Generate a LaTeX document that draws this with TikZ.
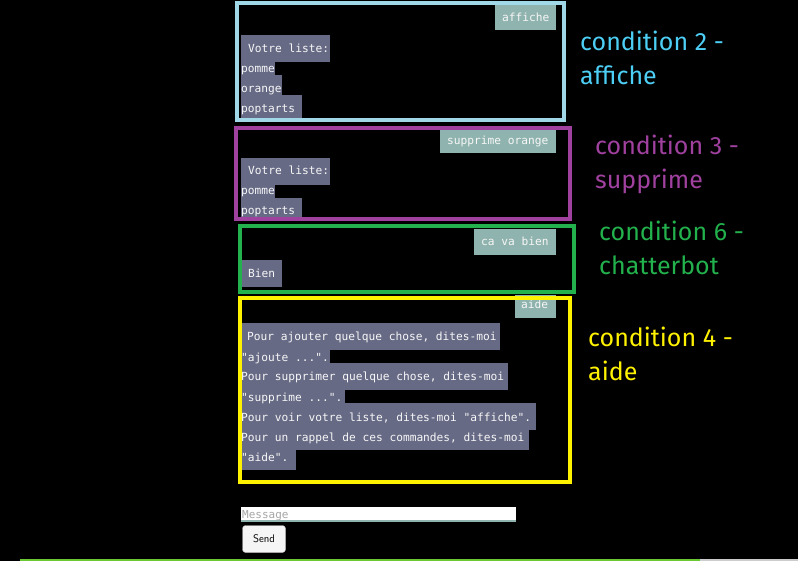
\documentclass[tikz,border=0pt]{standalone}
\usepackage{fontspec}
\setmainfont{Fira Sans}
\setmonofont{DejaVu Sans Mono}
\definecolor{cyanb}{HTML}{A0D8E8}
\definecolor{purb}{HTML}{A0409F}
\definecolor{grnb}{HTML}{22B14C}
\definecolor{yelb}{HTML}{FFF200}
\definecolor{userc}{HTML}{8FB3AE}
\definecolor{botc}{HTML}{666A85}
\begin{document}
\begin{tikzpicture}[x=1pt,y=-1pt,
  frame/.style={line width=4pt},
  ub/.style={fill=userc},
  bb/.style={fill=botc},
  txt/.style={anchor=base west,inner sep=0pt,font=\ttfamily\fontsize{11.2}{13}\selectfont,text=white!94!gray},
  lab/.style={anchor=base west,inner sep=0pt,font=\fontsize{25}{30}\selectfont}]
\fill[black] (0,0) rectangle (798,561);
\useasboundingbox (0,0) rectangle (798,561);
% box 1
\fill[ub] (495,5) rectangle (556,30);
\node[txt] (u1) at (502,22) {affiche};
\fill[bb] (241,35) rectangle (330,62);
\fill[bb] (241,62) rectangle (275,75);
\fill[bb] (241,75) rectangle (282,95);
\fill[bb] (241,95) rectangle (302,118);
\node[txt] (b1a) at (248,53) {Votre liste:};
\node[txt] (b1b) at (241,73) {pomme};
\node[txt] (b1c) at (241,93) {orange};
\node[txt] (b1d) at (241,113) {poptarts};
\draw[frame,cyanb] (237,3) rectangle (564,120);
% box 2
\fill[ub] (440,129) rectangle (556,153);
\node[txt] (u2) at (447,145) {supprime orange};
\fill[bb] (241,158) rectangle (330,185);
\fill[bb] (241,185) rectangle (275,198);
\fill[bb] (241,198) rectangle (302,218);
\node[txt] (b2a) at (248,175) {Votre liste:};
\node[txt] (b2b) at (241,195) {pomme};
\node[txt] (b2c) at (241,215) {poptarts};
\draw[frame,purb] (236,128) rectangle (570,219);
% box 3
\fill[ub] (474,229) rectangle (556,255);
\node[txt] (u3) at (481,246) {ca va bien};
\fill[bb] (241,260) rectangle (282,287);
\node[txt] (b3) at (248,278) {Bien};
\draw[frame,grnb] (240,226) rectangle (574,292);
% box 4
\fill[ub] (515,295) rectangle (556,318);
\node[txt] (u4) at (521,309) {aide};
\fill[bb] (241,323) rectangle (500,350);
\fill[bb] (241,350) rectangle (330,363);
\fill[bb] (241,363) rectangle (508,390);
\fill[bb] (241,390) rectangle (345,403);
\fill[bb] (241,403) rectangle (536,430);
\fill[bb] (241,430) rectangle (529,450);
\fill[bb] (241,450) rectangle (296,470);
\node[txt] (b4a) at (247,341) {Pour ajouter quelque chose, dites-moi};
\node[txt] (b4b) at (241,361) {"ajoute ...".};
\node[txt] (b4c) at (241,381) {Pour supprimer quelque chose, dites-moi};
\node[txt] (b4d) at (241,401) {"supprime ...".};
\node[txt] (b4e) at (241,421) {Pour voir votre liste, dites-moi "affiche".};
\node[txt] (b4f) at (241,441) {Pour un rappel de ces commandes, dites-moi};
\node[txt] (b4g) at (241,461) {"aide".};
\draw[frame,yelb] (240,298) rectangle (570,482);
\fill[yelb] (238,296) rectangle (572,300);
% labels
\node[lab,text=cyanb!80!blue!60!cyan] (l2a) at (580,51) {condition 2 -};
\node[lab,text=cyanb!80!blue!60!cyan] (l2b) at (580,85) {affiche};
\node[lab,text=purb] (l3a) at (595,155) {condition 3 -};
\node[lab,text=purb] (l3b) at (595,189) {supprime};
\node[lab,text=grnb] (l6a) at (599,241) {condition 6 -};
\node[lab,text=grnb] (l6b) at (599,275) {chatterbot};
\node[lab,text=yelb] (l4a) at (588,346) {condition 4 -};
\node[lab,text=yelb] (l4b) at (588,380) {aide};
% input
\fill[white] (241,507) rectangle (516,521);
\fill[userc] (241,520) rectangle (516,522);
\node[anchor=base west,inner sep=0pt,font=\ttfamily\fontsize{11}{13}\selectfont,text=gray!70] (msg) at (242,518) {Message};
\node[draw=gray!60,fill=gray!8,rounded corners=3pt,minimum width=43pt,minimum height=27pt,inner sep=0pt,font=\sffamily\fontsize{11}{13}\selectfont] (send) at (264,539) {Send};
\fill[green!45!olive!80!white] (20,559) rectangle (700,561);
\fill[gray!40] (700,559) rectangle (798,561);
\end{tikzpicture}
\end{document}
